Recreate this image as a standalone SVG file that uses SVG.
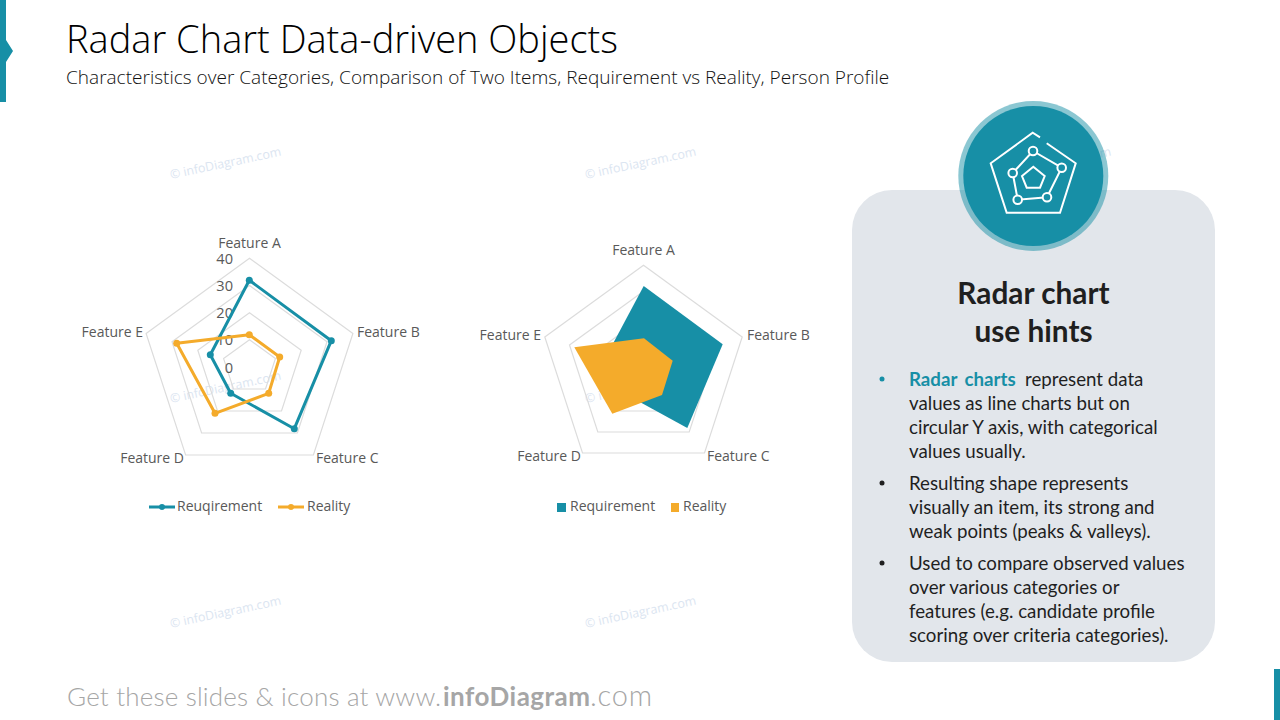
<svg xmlns="http://www.w3.org/2000/svg" width="1280" height="720" viewBox="0 0 1280 720">
<style>
.ax{font-family:"Open Sans","Liberation Sans",sans-serif;font-size:14px;fill:#595959}
.num{font-family:"Open Sans","Liberation Sans",sans-serif;font-size:14.6px;fill:#595959;text-anchor:end}
.wm{font-family:"Open Sans","Liberation Sans",sans-serif;font-size:12.4px;fill:#dbe5f1}
.grid{fill:none;stroke:#dcdcdc;stroke-width:1.2}
.req{fill:none;stroke:#178fa6;stroke-width:3;stroke-linejoin:round}
.rea{fill:none;stroke:#f4ab2b;stroke-width:3;stroke-linejoin:round}
.b{font-family:Lato,"Liberation Sans",sans-serif;font-size:18.7px;fill:#1f1f1f}
.ic{fill:none;stroke:#fff;stroke-width:2}
</style>
<rect width="1280" height="720" fill="#fff"/>
<g id="watermarks" class="wm">
<text transform="translate(171 179) rotate(-12)">© infoDiagram.com</text>
<text transform="translate(586 179) rotate(-12)">© infoDiagram.com</text>
<text transform="translate(171 403) rotate(-12)">© infoDiagram.com</text>
<text transform="translate(586 403) rotate(-12)">© infoDiagram.com</text>
<text transform="translate(171 628) rotate(-12)">© infoDiagram.com</text>
<text transform="translate(586 628) rotate(-12)">© infoDiagram.com</text>
<text transform="translate(1001 179) rotate(-12)">© infoDiagram.com</text>
</g>
<g id="accents" fill="#178fa6">
<path d="M0 0H6V40L13 51L6 62V102H0Z"/>
<rect x="1274" y="669" width="6" height="51"/>
</g>
<g id="heading">
<text x="66" y="53" font-family="'Open Sans','Liberation Sans',sans-serif" font-weight="300" font-size="38" fill="#000">Radar Chart Data-driven Objects</text>
<text x="66" y="84" font-family="'Open Sans','Liberation Sans',sans-serif" font-weight="300" font-size="19.05" fill="#111">Characteristics over Categories, Comparison of Two Items, Requirement vs Reality, Person Profile</text>
</g>
<g id="chart-line">
<polygon class="grid" points="249.5,258.3 352.9,333.4 313.4,455 185.6,455 146.1,333.4"/>
<polygon class="grid" points="249.5,285.5 327,341.8 297.4,433 201.6,433 172,341.8"/>
<polygon class="grid" points="249.5,312.7 301.2,350.2 281.5,411 217.5,411 197.8,350.2"/>
<polygon class="grid" points="249.5,339.8 275.4,358.6 265.5,389 233.5,389 223.6,358.6"/>
<text class="num" x="233" y="264">40</text>
<text class="num" x="233" y="291">30</text>
<text class="num" x="233" y="318">20</text>
<text class="num" x="233" y="345">10</text>
<text class="num" x="233" y="373">0</text>
<polygon class="req" points="249.3,280.3 331.3,340.7 294.3,428.7 230.7,393.3 210.3,354.7"/>
<polygon class="rea" points="249.3,334.7 279.7,357 268.7,393.3 215,413.3 176.7,343.3"/>
<g fill="#178fa6"><circle cx="249.3" cy="280.3" r="3.5"/><circle cx="331.3" cy="340.7" r="3.5"/><circle cx="294.3" cy="428.7" r="3.5"/><circle cx="230.7" cy="393.3" r="3.5"/><circle cx="210.3" cy="354.7" r="3.5"/></g>
<g fill="#f4ab2b"><circle cx="249.3" cy="334.7" r="3.5"/><circle cx="279.7" cy="357" r="3.5"/><circle cx="268.7" cy="393.3" r="3.5"/><circle cx="215" cy="413.3" r="3.5"/><circle cx="176.7" cy="343.3" r="3.5"/></g>
<text class="ax" x="249.5" y="248" text-anchor="middle">Feature A</text>
<text class="ax" x="357" y="337">Feature B</text>
<text class="ax" x="316" y="463">Feature C</text>
<text class="ax" x="184" y="463" text-anchor="end">Feature D</text>
<text class="ax" x="143" y="337" text-anchor="end">Feature E</text>
<line class="req" x1="149" y1="507" x2="175" y2="507"/><circle cx="162" cy="507" r="3" fill="#178fa6"/>
<text class="ax" x="177" y="511">Reuqirement</text>
<line class="rea" x1="278" y1="507" x2="304" y2="507"/><circle cx="291" cy="507" r="3" fill="#f4ab2b"/>
<text class="ax" x="307" y="511">Reality</text>
</g>
<g id="chart-filled">
<polygon class="grid" points="643.5,265.3 742.2,337 704.5,453 582.5,453 544.8,337"/>
<polygon class="grid" points="643.5,291.2 717.5,345 689.2,432 597.8,432 569.5,345"/>
<polygon class="grid" points="643.5,317.1 692.9,353 674,411 613,411 594.1,353"/>
<polygon class="grid" points="643.5,343 668.2,361 658.7,390 628.3,390 618.8,361"/>
<polygon fill="#178fa6" points="643.7,286 722.7,344.3 687.3,428 625.2,394 606,356.8"/>
<polygon fill="#f4ab2b" points="644,338.3 672.7,360.7 662,395 612.3,413.7 574.3,347.3"/>
<text class="ax" x="643.5" y="255" text-anchor="middle">Feature A</text>
<text class="ax" x="747" y="340">Feature B</text>
<text class="ax" x="707" y="461">Feature C</text>
<text class="ax" x="581" y="461" text-anchor="end">Feature D</text>
<text class="ax" x="541" y="340" text-anchor="end">Feature E</text>
<rect x="557" y="503" width="9" height="9" fill="#178fa6"/>
<text class="ax" x="570" y="511">Requirement</text>
<rect x="671" y="503" width="8" height="9" fill="#f4ab2b"/>
<text class="ax" x="683" y="511">Reality</text>
</g>
<g id="hints-panel">
<rect x="852" y="190" width="363" height="472" rx="40" fill="#e2e6eb"/>
<text x="1033.5" y="304" text-anchor="middle" font-family="Lato,'Liberation Sans',sans-serif" font-weight="700" font-size="29.8" fill="#1f1f1f">Radar chart</text>
<text x="1033.5" y="342" text-anchor="middle" font-family="Lato,'Liberation Sans',sans-serif" font-weight="700" font-size="29.8" fill="#1f1f1f">use hints</text>
<circle cx="882" cy="379" r="2.5" fill="#178fa6"/>
<text class="b" x="909" y="386"><tspan font-weight="700" fill="#178fa6" word-spacing="3">Radar charts</tspan><tspan x="1025">represent data</tspan></text>
<text class="b" x="909" y="410">values as line charts but on</text>
<text class="b" x="909" y="434">circular Y axis, with categorical</text>
<text class="b" x="909" y="458">values usually.</text>
<circle cx="882" cy="483" r="2.5" fill="#1f1f1f"/>
<text class="b" x="909" y="490">Resulting shape represents</text>
<text class="b" x="909" y="514">visually an item, its strong and</text>
<text class="b" x="909" y="538">weak points (peaks &amp; valleys).</text>
<circle cx="882" cy="563" r="2.5" fill="#1f1f1f"/>
<text class="b" x="909" y="570">Used to compare observed values</text>
<text class="b" x="909" y="594">over various categories or</text>
<text class="b" x="909" y="618">features (e.g. candidate profile</text>
<text class="b" x="909" y="642">scoring over criteria categories).</text>
</g>
<g id="icon-badge">
<circle cx="1033.3" cy="176" r="75" fill="#178fa6" fill-opacity="0.5"/>
<circle cx="1033.3" cy="176" r="70" fill="#178fa6"/>
<path class="ic" d="M1040 137.3L1032.7 132.7L990.7 163.3L1006.7 212.7H1060L1075.7 163.3L1046.7 143.3"/>
<polygon class="ic" points="1033.3,166.7 1044.7,176 1040,187.7 1026.7,187.7 1022,176"/>
<polygon class="ic" points="1033,151 1061.7,167.7 1047,197.3 1017.7,199.7 1012.7,173"/>
<g fill="#178fa6" stroke="#fff" stroke-width="2"><circle cx="1033" cy="151" r="4.3"/><circle cx="1061.7" cy="167.7" r="4.3"/><circle cx="1047" cy="197.3" r="4.3"/><circle cx="1017.7" cy="199.7" r="4.3"/><circle cx="1012.7" cy="173" r="4.3"/></g>
</g>
<g id="footer">
<text y="706" font-family="Lato,'Liberation Sans',sans-serif" font-weight="300" font-size="26" fill="#a6a6a6"><tspan x="67" textLength="374" lengthAdjust="spacing">Get these slides &amp; icons at www.</tspan><tspan x="443" font-weight="700" textLength="147" lengthAdjust="spacing">infoDiagram</tspan><tspan x="590" font-size="29" textLength="62" lengthAdjust="spacing">.com</tspan></text>
</g>
</svg>
